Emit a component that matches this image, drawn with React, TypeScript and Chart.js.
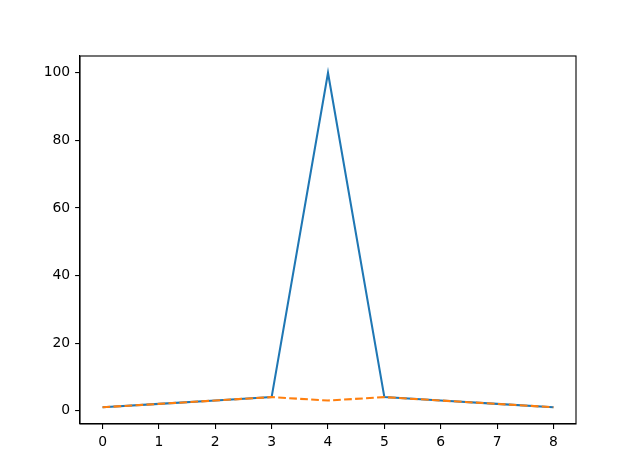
import React, { useEffect, useRef } from "react";
import { Chart, registerables } from "chart.js";

Chart.register(...registerables);

const xValues = [0, 1, 2, 3, 4, 5, 6, 7, 8];
const spikeSeries = [1, 2, 3, 4, 100, 4, 3, 2, 1];
const flatSeries = [1, 2, 3, 4, 3, 4, 3, 2, 1];
const xTicks = [0, 1, 2, 3, 4, 5, 6, 7, 8];
const yTicks = [0, 20, 40, 60, 80, 100];

const boxPlugin = {
  id: "box",
  afterDraw(chart: any) {
    const { ctx, chartArea } = chart;
    ctx.save();
    ctx.strokeStyle = "#000";
    ctx.lineWidth = 1.1;
    ctx.strokeRect(chartArea.left, chartArea.top, chartArea.right - chartArea.left, chartArea.bottom - chartArea.top);
    ctx.restore();
  },
};

export default function App() {
  const ref = useRef<HTMLCanvasElement | null>(null);
  useEffect(() => {
    if (!ref.current) return;
    const font = { family: "DejaVu Sans", size: 13.9 };
    const chart = new Chart(ref.current, {
      type: "line",
      data: {
        datasets: [
          {
            data: xValues.map((x, i) => ({ x, y: spikeSeries[i] })),
            borderColor: "#1f77b4",
            borderWidth: 2.08,
            pointRadius: 0,
            tension: 0,
            fill: false,
            order: 2,
          },
          {
            data: xValues.map((x, i) => ({ x, y: flatSeries[i] })),
            borderColor: "#ff7f0e",
            borderWidth: 2.08,
            borderDash: [7.7, 3.3],
            pointRadius: 0,
            tension: 0,
            fill: false,
            order: 1,
          },
        ],
      },
      options: {
        responsive: false,
        animation: false,
        devicePixelRatio: 1,
        layout: { padding: { top: 56, right: 64, left: 0, bottom: 0 } },
        plugins: { legend: { display: false }, tooltip: { enabled: false } },
        scales: {
          x: {
            type: "linear",
            min: -0.4,
            max: 8.4,
            afterBuildTicks: (scale: any) => {
              scale.ticks = xTicks.map((v) => ({ value: v }));
            },
            afterFit: (scale: any) => {
              scale.height = 52;
            },
            grid: { display: true, drawOnChartArea: false, drawTicks: true, tickLength: 4.9, color: "#000", lineWidth: 1.1 },
            border: { display: true, color: "#000", width: 1.1 },
            ticks: { color: "#000", font, padding: 4.9, maxRotation: 0, autoSkip: false },
          },
          y: {
            type: "linear",
            min: -3.95,
            max: 104.95,
            afterBuildTicks: (scale: any) => {
              scale.ticks = yTicks.map((v) => ({ value: v }));
            },
            afterFit: (scale: any) => {
              scale.width = 80;
            },
            grid: { display: true, drawOnChartArea: false, drawTicks: true, tickLength: 4.9, color: "#000", lineWidth: 1.1 },
            border: { display: true, color: "#000", width: 1.1 },
            ticks: { color: "#000", font, padding: 4.9, autoSkip: false },
          },
        },
      },
      plugins: [boxPlugin],
    } as any);
    return () => chart.destroy();
  }, []);
  return (
    <div style={{ position: "fixed", left: 0, top: 0, width: 640, height: 476, background: "#fff" }}>
      <canvas ref={ref} width={640} height={476} style={{ width: 640, height: 476 }} />
    </div>
  );
}
